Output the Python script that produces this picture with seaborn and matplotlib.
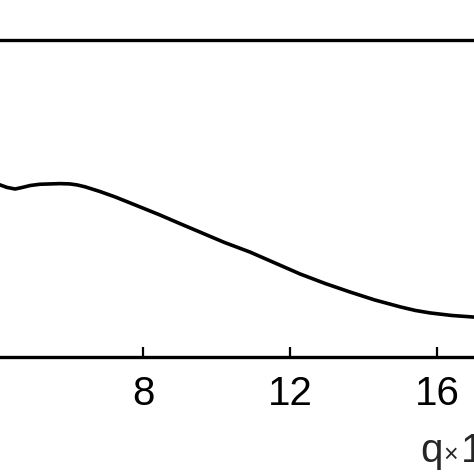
import matplotlib
matplotlib.use("Agg")
import matplotlib.pyplot as plt
import seaborn as sns
import pandas as pd

q = [3.9, 4.11, 4.30, 4.52, 4.72, 4.93, 5.2, 5.47, 5.75, 6.01, 6.2, 6.42, 6.83, 7.24,
     7.65, 8.46, 9.0, 9.55, 10.2, 10.91, 11.6, 12.27, 12.95, 13.63, 14.3, 15.0, 15.4,
     15.81, 16.4, 17.0, 17.3]
intensity = [0.545, 0.543, 0.535, 0.530, 0.535, 0.541, 0.545, 0.546, 0.547, 0.546,
             0.543, 0.537, 0.522, 0.505, 0.486, 0.448, 0.421, 0.394, 0.362, 0.331,
             0.296, 0.262, 0.232, 0.205, 0.180, 0.158, 0.147, 0.139, 0.131, 0.126, 0.124]
xticks = [8, 12, 16]
xtick_labels = ["8", "12", "16"]

sns.set_style("white")
plt.rcParams['font.family'] = ['Liberation Sans', 'DejaVu Sans']

df = pd.DataFrame({"q": q, "I": intensity})

fig = plt.figure(figsize=(4.74, 4.74), dpi=100)
ax = fig.add_axes([0, 0.2468, 1, 0.6688])
sns.lineplot(data=df, x="q", y="I", ax=ax, color="black", linewidth=2.6)

ax.set_xlim(4.11, 17.0)
ax.set_ylim(0, 1)
ax.set_xticks(xticks)
ax.set_xticklabels(xtick_labels)
ax.set_yticks([])
ax.set_xlabel("")
ax.set_ylabel("")
for s in ["left", "right"]:
    ax.spines[s].set_visible(False)
for s in ["top", "bottom"]:
    ax.spines[s].set_linewidth(2.4)
    ax.spines[s].set_color("black")
ax.tick_params(axis="x", direction="in", length=7, width=1.6, labelsize=29,
               pad=13, colors="black", bottom=True)

fig.text(420 / 474, (474 - 462) / 474, "q", fontsize=29, ha="left", va="baseline")
fig.text(443 / 474, (474 - 462) / 474, "×", fontsize=18, ha="left", va="baseline")
fig.text(461 / 474, (474 - 462) / 474, "10", fontsize=29, ha="left", va="baseline")

fig.savefig("out.png", dpi=100)
